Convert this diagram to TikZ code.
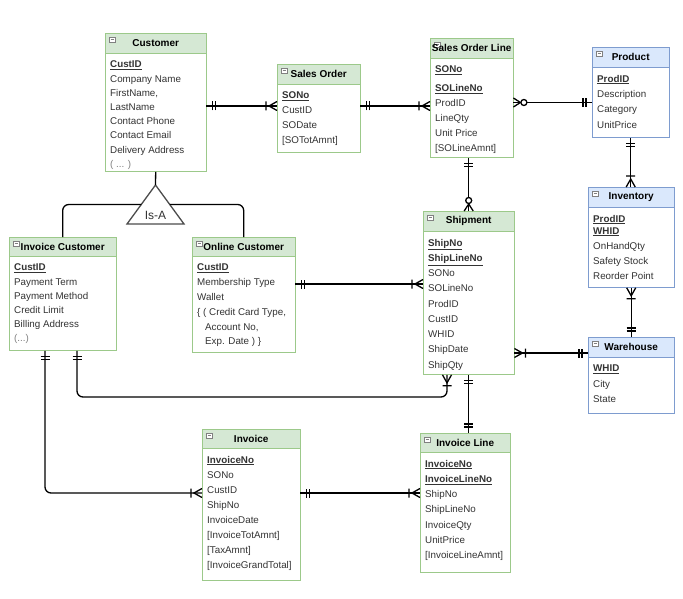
\documentclass[tikz,border=0pt]{standalone}
\usepackage{fontspec}
\setmainfont{Liberation Sans}
\usetikzlibrary{positioning}
\usetikzlibrary{calc}
\usetikzlibrary{decorations.markings}
\definecolor{gfill}{HTML}{D5E8D4}
\definecolor{gline}{HTML}{9CC98A}
\definecolor{bfill}{HTML}{DAE8FC}
\definecolor{bline}{HTML}{7E9CCF}
\definecolor{txt}{HTML}{333333}
\newcommand{\fields}[4][15pt]{\parbox[t][#3][t]{#2}{\fontsize{9.8}{#1}\selectfont\vspace*{7.5pt}#4}}
\newcommand{\key}[1]{\textbf{\underline{#1}}}
\tikzset{head/.style={anchor=north west,draw=#1line,fill=#1fill,minimum height=20pt,inner sep=0pt,
    font=\fontsize{10}{12}\selectfont\bfseries,
    path picture={\draw[gray,fill=white,line width=0.6pt] ([xshift=4pt,yshift=-4pt]path picture bounding box.north west) rectangle ++(6pt,-5pt);
      \draw[gray,line width=0.6pt] ([xshift=5.5pt,yshift=-6.5pt]path picture bounding box.north west) -- ++(3pt,0pt);}},
  body/.style={draw=#1line,fill=white,inner xsep=5pt,inner ysep=0pt,text=txt},
  conn/.style={draw=black,line width=1.3pt,rounded corners=6pt},
  mark start/.style={postaction={decorate,decoration={markings,mark=at position 0.0001 with {#1}}}},
  mark end/.style={postaction={decorate,decoration={markings,mark=at position 0.9999 with {\begin{scope}[xscale=-1]#1\end{scope}}}}},
  one start/.style={mark start={\draw[sharp corners] (6pt,-4.5pt) -- (6pt,4.5pt) (9pt,-4.5pt) -- (9pt,4.5pt);}},
  one end/.style={mark end={\draw[sharp corners] (6pt,-4.5pt) -- (6pt,4.5pt) (9pt,-4.5pt) -- (9pt,4.5pt);}},
  many start/.style={mark start={\draw[sharp corners] (0pt,-4.5pt) -- (8pt,0pt) -- (0pt,4.5pt) (11pt,-4.5pt) -- (11pt,4.5pt);}},
  many end/.style={mark end={\draw[sharp corners] (0pt,-4.5pt) -- (8pt,0pt) -- (0pt,4.5pt) (11pt,-4.5pt) -- (11pt,4.5pt);}},
  zmany start/.style={mark start={\draw[sharp corners] (0pt,-4.5pt) -- (7pt,0pt) -- (0pt,4.5pt); \draw[fill=white] (10.5pt,0pt) circle (3pt);}},
  zmany end/.style={mark end={\draw[sharp corners] (0pt,-4.5pt) -- (7pt,0pt) -- (0pt,4.5pt); \draw[fill=white] (10.5pt,0pt) circle (3pt);}}}

\begin{document}
\begin{tikzpicture}[x=1pt,y=-1pt]
    \path[use as bounding box,fill=white] (0,0) rectangle (683,599);

    % entities
    \node[head=g,minimum width=101pt] (cust) at (105,33) {Customer};
    \node[body=g,below=0pt of cust] (custb) {\fields[14.2pt]{91pt}{118pt}{\key{CustID}\\ Company Name\\ FirstName,\\ LastName\\ Contact Phone\\ Contact Email\\ Delivery Address\\ {\color{gray}( ... )}}};

    \node[head=g,minimum width=83pt] (so) at (277,64) {Sales Order};
    \node[body=g,below=0pt of so] (sob) {\fields{73pt}{68pt}{\key{SONo}\\ CustID\\ SODate\\ {[}SOTotAmnt]}};

    \node[head=g,minimum width=83pt] (sol) at (430,38) {Sales Order Line};
    \node[body=g,below=0pt of sol] (solb) {\fields{73pt}{99pt}{\key{SONo}\\[4pt] \key{SOLineNo}\\ ProdID\\ LineQty\\ Unit Price\\ {[}SOLineAmnt]}};

    \node[head=b,minimum width=77pt] (prod) at (592,47) {Product};
    \node[body=b,below=0pt of prod] (prodb) {\fields[15.3pt]{67pt}{70pt}{\key{ProdID}\\ Description\\ Category\\ UnitPrice}};

    \node[head=b,minimum width=86pt] (inv) at (588,187) {Inventory};
    \node[body=b,below=0pt of inv] (invb) {\fields{76pt}{80pt}{\key{ProdID}\\[-3pt] \key{WHID}\\ OnHandQty\\ Safety Stock\\ Reorder Point}};

    \node[head=b,minimum width=86pt] (wh) at (588,337) {Warehouse};
    \node[body=b,below=0pt of wh] (whb) {\fields[15.5pt]{76pt}{56pt}{\key{WHID}\\ City\\ State}};

    \node[head=g,minimum width=91pt] (ship) at (423,211) {Shipment};
    \node[body=g,below=0pt of ship] (shipb) {\fields[15.25pt]{81pt}{143pt}{\key{ShipNo}\\ \key{ShipLineNo}\\ SONo\\ SOLineNo\\ ProdID\\ CustID\\ WHID\\ ShipDate\\ ShipQty}};

    \node[head=g,minimum width=107pt,minimum height=19pt] (ic) at (9,237) {Invoice Customer};
    \node[body=g,below=0pt of ic] (icb) {\fields[14.2pt]{97pt}{94pt}{\key{CustID}\\ Payment Term\\ Payment Method\\ Credit Limit\\ Billing Address\\ {\color{gray}(...)}}};

    \node[head=g,minimum width=103pt,minimum height=19pt] (oc) at (192,237) {Online Customer};
    \node[body=g,below=0pt of oc] (ocb) {\fields[14.8pt]{93pt}{96pt}{\key{CustID}\\ Membership Type\\ Wallet\\ \{ ( Credit Card Type,\\ \hspace*{8pt}Account No,\\ \hspace*{8pt}Exp. Date ) \}}};

    \node[head=g,minimum width=98pt,minimum height=19pt] (invc) at (202,429) {Invoice};
    \node[body=g,below=0pt of invc] (invcb) {\fields[15.1pt]{88pt}{132pt}{\key{InvoiceNo}\\ SONo\\ CustID\\ ShipNo\\ InvoiceDate\\ {[}InvoiceTotAmnt]\\ {[}TaxAmnt]\\ {[}InvoiceGrandTotal]}};

    \node[head=g,minimum width=90pt,minimum height=19pt] (il) at (420,433) {Invoice Line};
    \node[body=g,below=0pt of il] (ilb) {\fields[15.2pt]{80pt}{120pt}{\key{InvoiceNo}\\ \key{InvoiceLineNo}\\ ShipNo\\ ShipLineNo\\ InvoiceQty\\ UnitPrice\\ {[}InvoiceLineAmnt]}};

    % Is-A
    \coordinate (isatop) at (155.5,185);
    \coordinate (isalc) at (127,224);
    \coordinate (isarc) at (184,224);
    \coordinate (isal) at ($(isatop)!0.5!(isalc)$);
    \coordinate (isar) at ($(isatop)!0.5!(isarc)$);
    \draw[line width=1.3pt,draw=black!70,fill=white] (isatop) -- (isarc) -- (isalc) -- cycle;
    \node[font=\fontsize{12}{14}\selectfont,text=txt] (isa) at (155.5,215) {Is-A};
    \draw[conn] (custb.south) -- (isatop);
    \draw[conn] (ic.north) |- (isal);
    \draw[conn] (isar) -| (oc.north);

    % relationships
    \draw[conn,one start,many end] (custb.east |- 0,106) -- (sob.west |- 0,106);
    \draw[conn,one start,many end] (sob.east |- 0,106) -- (solb.west |- 0,106);
    \draw[conn,zmany start,one end] (solb.east |- 0,102.5) -- (prodb.west |- 0,102.5);
    \draw[conn,one start,zmany end] (solb.south -| ship.north) -- (ship.north);
    \draw[conn,one start,many end] (prodb.south) -- (prodb.south |- inv.north);
    \draw[conn,many start,one end] (invb.south) -- (invb.south |- wh.north);
    \draw[conn,many start,one end] (shipb.east |- 0,353) -- (whb.west |- 0,353);
    \draw[conn,one start,many end] (ocb.east |- 0,284) -- (shipb.west |- 0,284);
    \draw[conn,one start,many end] (icb.south -| 77,0) -- (77,397) -- (447,397) -- (shipb.south -| 447,0);
    \draw[conn,one start,many end] (icb.south -| 45,0) -- (45,493) -- (invcb.west |- 0,493);
    \draw[conn,one start,one end] (shipb.south) -- (shipb.south |- il.north);
    \draw[conn,one start,many end] (invcb.east |- 0,493) -- (ilb.west |- 0,493);

\end{tikzpicture}
\end{document}
